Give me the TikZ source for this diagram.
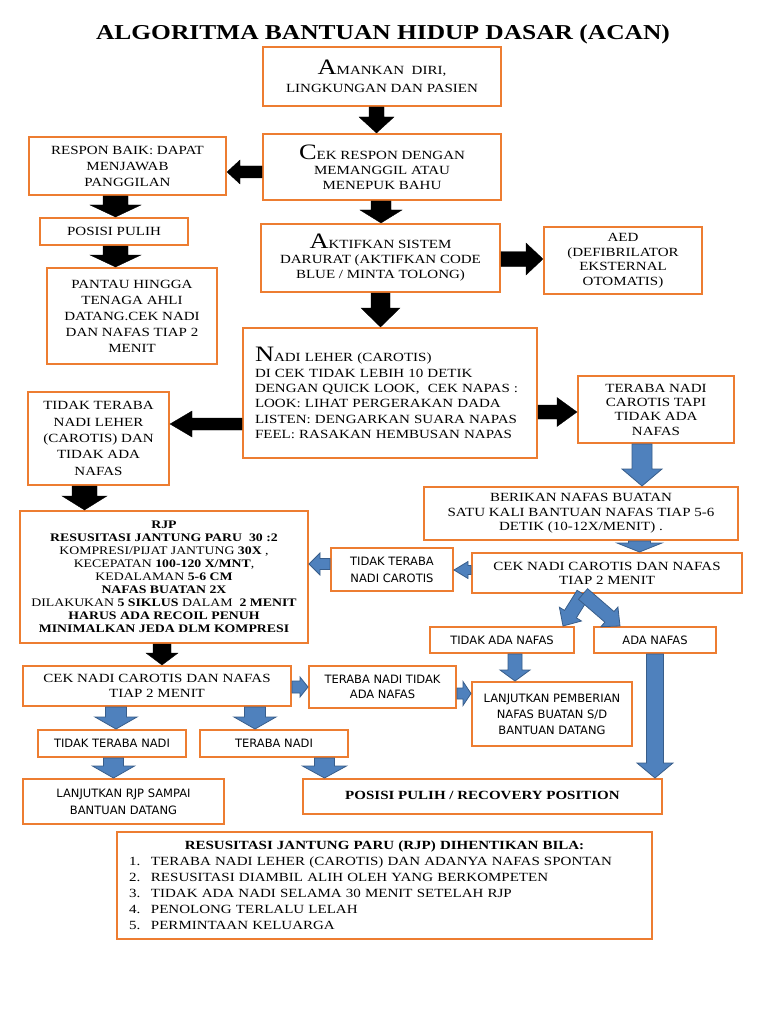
\documentclass[tikz,border=0pt]{standalone}
\usepackage{fontspec}
\setmainfont{Liberation Serif}[FakeStretch=1.2]
\newfontfamily\sansx{DejaVu Sans}
\usetikzlibrary{calc}
\definecolor{orangeC}{RGB}{237,125,49}
\definecolor{blueF}{RGB}{79,129,189}
\definecolor{blueD}{RGB}{56,93,138}
\newcommand\capL[1]{{\fontsize{22}{22}\selectfont #1}}
% block arrow: style, start, end, shaft half width, head half width, head length
\newcommand\barrow[6]{%
  \coordinate (bs) at (#2);
  \coordinate (be) at (#3);
  \coordinate (bh) at ($(be)!#6pt!(bs)$);
  \filldraw[#1] ($(bs)!#4pt!90:(be)$) -- ($(bh)!#4pt!-90:(bs)$) -- ($(bh)!#5pt!-90:(bs)$) -- (be)
    -- ($(bh)!#5pt!90:(bs)$) -- ($(bh)!#4pt!90:(bs)$) -- ($(bs)!#4pt!-90:(be)$) -- cycle;}
% box: name, x1, y1, x2, y2, options, text
\newcommand\bx[7]{\node[box,minimum width={(#4)-(#2)},minimum height={(#5)-(#3)},#6] (#1) at ({((#2)+(#4))/2},{((#3)+(#5))/2}) {#7};}
\begin{document}
\begin{tikzpicture}[x=1pt,y=-1pt,
  box/.style={draw=orangeC,line width=2pt,fill=white,inner sep=1pt,align=center,font=\fontsize{12.5}{15}\selectfont},
  sbox/.style={font=\sansx\fontsize{11.5}{16}\selectfont},
  blk/.style={fill=black,draw=black,line width=0.3pt},
  blu/.style={fill=blueF,draw=blueD,line width=0.8pt}]
\path[fill=white] (0,0) rectangle (768,1024);
\useasboundingbox (0,0) rectangle (768,1024);

\node[font=\fontsize{21.2}{24}\selectfont\bfseries] (title) at (383,34) {ALGORITMA BANTUAN HIDUP DASAR (ACAN)};

\bx{A}{263}{47}{501}{106}{font=\fontsize{12.5}{18}\selectfont}{\capL{A}MANKAN\ \ DIRI,\\LINGKUNGAN DAN PASIEN}
\bx{C}{263}{134}{501}{200}{}{\capL{C}EK RESPON DENGAN\\MEMANGGIL ATAU\\MENEPUK BAHU}
\bx{respon}{29}{137}{226}{195}{font=\fontsize{12.5}{16}\selectfont}{RESPON BAIK: DAPAT\\MENJAWAB\\PANGGILAN}
\bx{posisi}{40}{218}{188}{245}{}{POSISI PULIH}
\bx{pantau}{47}{268}{217}{364}{font=\fontsize{12.5}{16}\selectfont}{PANTAU HINGGA\\TENAGA AHLI\\DATANG.CEK NADI\\DAN NAFAS TIAP 2\\MENIT}
\bx{akt}{261}{224}{500}{292}{}{\capL{A}KTIFKAN SISTEM\\DARURAT (AKTIFKAN CODE\\BLUE / MINTA TOLONG)}
\bx{aed}{544}{227}{702}{294}{font=\fontsize{12.5}{14.5}\selectfont}{AED\\(DEFIBRILATOR\\EKSTERNAL\\OTOMATIS)}
\bx{nadi}{243}{328}{537}{458}{text width=270pt,inner xsep=12pt,align=left,font=\fontsize{12.5}{15.4}\selectfont}{\capL{N}ADI LEHER (CAROTIS)\\DI CEK TIDAK LEBIH 10 DETIK\\DENGAN QUICK LOOK,\ \ CEK NAPAS :\\LOOK: LIHAT PERGERAKAN DADA\\LISTEN: DENGARKAN SUARA NAPAS\\FEEL: RASAKAN HEMBUSAN NAPAS}
\bx{tapi}{578}{376}{734}{443}{font=\fontsize{12.5}{14.3}\selectfont}{TERABA NADI\\CAROTIS TAPI\\TIDAK ADA\\NAFAS}
\bx{leher}{28}{392}{169}{485}{font=\fontsize{12.5}{16.3}\selectfont}{TIDAK TERABA\\NADI LEHER\\(CAROTIS) DAN\\TIDAK ADA\\NAFAS}
\bx{rjp}{20}{511}{308}{643}{font=\fontsize{11.5}{13}\selectfont}{\textbf{RJP}\\\textbf{RESUSITASI JANTUNG PARU\ \ 30 :2}\\KOMPRESI/PIJAT JANTUNG \textbf{30X} ,\\KECEPATAN \textbf{100-120 X/MNT},\\KEDALAMAN \textbf{5-6 CM}\\\textbf{NAFAS BUATAN 2X}\\DILAKUKAN \textbf{5 SIKLUS} DALAM\ \ \textbf{2 MENIT}\\\textbf{HARUS ADA RECOIL PENUH}\\\textbf{MINIMALKAN JEDA DLM KOMPRESI}}
\bx{berikan}{424}{487}{738}{540}{font=\fontsize{12.5}{14.5}\selectfont}{BERIKAN NAFAS BUATAN\\SATU KALI BANTUAN NAFAS TIAP 5-6\\DETIK (10-12X/MENIT) .}
\bx{ttc}{331}{548}{453}{591}{sbox,font=\sansx\fontsize{11.5}{17}\selectfont}{TIDAK TERABA\\NADI CAROTIS}
\bx{cek2}{472}{553}{742}{593}{font=\fontsize{12.5}{14}\selectfont}{CEK NADI CAROTIS DAN NAFAS\\TIAP 2 MENIT}
\bx{tan}{430}{627}{574}{653}{sbox}{TIDAK ADA NAFAS}
\bx{an}{594}{627}{716}{653}{sbox}{ADA NAFAS}
\bx{cek1}{23}{666}{291}{706}{}{CEK NADI CAROTIS DAN NAFAS\\TIAP 2 MENIT}
\bx{tntan}{309}{666}{456}{708}{sbox,font=\sansx\fontsize{11.5}{15}\selectfont}{TERABA NADI TIDAK\\ADA NAFAS}
\bx{lpn}{472}{682}{632}{746}{sbox}{LANJUTKAN PEMBERIAN\\NAFAS BUATAN S/D\\BANTUAN DATANG}
\bx{ttn}{38}{730}{186}{757}{sbox}{TIDAK TERABA NADI}
\bx{tn}{200}{730}{348}{757}{sbox}{TERABA NADI}
\bx{lrjp}{23}{779}{224}{824}{sbox,font=\sansx\fontsize{11.5}{17}\selectfont}{LANJUTKAN RJP SAMPAI\\BANTUAN DATANG}
\bx{ppr}{303}{779}{662}{814}{}{\raisebox{3pt}{\textbf{POSISI PULIH / RECOVERY POSITION}}}
\bx{stop}{117}{832}{652}{939}{text width=511pt,inner xsep=12pt,align=left,font=\fontsize{12.5}{16}\selectfont}{\makebox[511pt]{\bfseries RESUSITASI JANTUNG PARU (RJP) DIHENTIKAN BILA:}\\\makebox[22pt][l]{1.}TERABA NADI LEHER (CAROTIS) DAN ADANYA NAFAS SPONTAN\\\makebox[22pt][l]{2.}RESUSITASI DIAMBIL ALIH OLEH YANG BERKOMPETEN\\\makebox[22pt][l]{3.}TIDAK ADA NADI SELAMA 30 MENIT SETELAH RJP\\\makebox[22pt][l]{4.}PENOLONG TERLALU LELAH\\\makebox[22pt][l]{5.}PERMINTAAN KELUARGA}

% black arrows
\barrow{blk}{[xshift=-5.5pt]A.south}{[xshift=-5.5pt]C.north}{7.5}{17.5}{16}
\barrow{blk}{[xshift=-1pt]C.south}{[xshift=0.5pt]akt.north}{10}{21}{13}
\barrow{blk}{[yshift=-5pt]C.west}{[yshift=-6pt]respon.east}{6}{12}{13}
\barrow{blk}{[xshift=-12pt]respon.south}{[xshift=1.5pt]posisi.north}{12.5}{25.5}{12}
\barrow{blk}{[xshift=1.5pt]posisi.south}{[xshift=-16.5pt]pantau.north}{12.5}{25.5}{12}
\barrow{blk}{[yshift=-1pt]akt.east}{[yshift=1.5pt]aed.west}{7.5}{16}{17}
\barrow{blk}{akt.south}{[xshift=-9.5pt]nadi.north}{9.5}{19.5}{19}
\barrow{blk}{[yshift=-19pt]nadi.east}{[yshift=-2.5pt]tapi.west}{7}{14.5}{20}
\barrow{blk}{[yshift=-31pt]nadi.west}{[yshift=14.5pt]leher.east}{6}{13}{22}
\barrow{blk}{[xshift=-14pt]leher.south}{[xshift=-79.5pt]rjp.north}{12.5}{22.5}{14}
\barrow{blk}{[xshift=-2pt]rjp.south}{[xshift=5pt]cek1.north}{9}{16}{12}

% blue arrows
\barrow{blu}{[xshift=-14pt]tapi.south}{[xshift=61pt]berikan.north}{10}{20}{17}
\barrow{blu}{[xshift=58.5pt]berikan.south}{[xshift=32.5pt]cek2.north}{11}{22.5}{9}
\barrow{blu}{[yshift=3pt]cek2.west}{[yshift=-0.5pt]ttc.east}{4.5}{8.5}{14}
\barrow{blu}{[yshift=5.5pt]ttc.west}{[yshift=13pt]rjp.east}{5.5}{11}{11}
\barrow{blu}{[xshift=-24pt]cek2.south}{[xshift=61pt]tan.north}{7}{13}{14}
\barrow{blu}{[xshift=-24pt]cek2.south}{[xshift=-35pt]an.north}{7}{13}{14}
\barrow{blu}{[xshift=13pt]tan.south}{[xshift=-37pt]lpn.north}{7}{15}{11}
\barrow{blu}{an.south}{[xshift=172.5pt]ppr.north}{8.5}{18}{15}
\barrow{blu}{[yshift=-1pt]cek1.east}{tntan.west}{6}{10}{8}
\barrow{blu}{[yshift=-6.5pt]tntan.east}{[yshift=20.5pt]lpn.west}{5.5}{12}{8}
\barrow{blu}{[xshift=-41pt]cek1.south}{[xshift=4pt]ttn.north}{10.5}{21}{12}
\barrow{blu}{[xshift=98pt]cek1.south}{[xshift=-19pt]tn.north}{10.5}{21}{12}
\barrow{blu}{[xshift=1.5pt]ttn.south}{[xshift=-10pt]lrjp.north}{10}{21}{12}
\barrow{blu}{[xshift=50.5pt]tn.south}{[xshift=-158pt]ppr.north}{10}{22}{12}
\end{tikzpicture}
\end{document}
